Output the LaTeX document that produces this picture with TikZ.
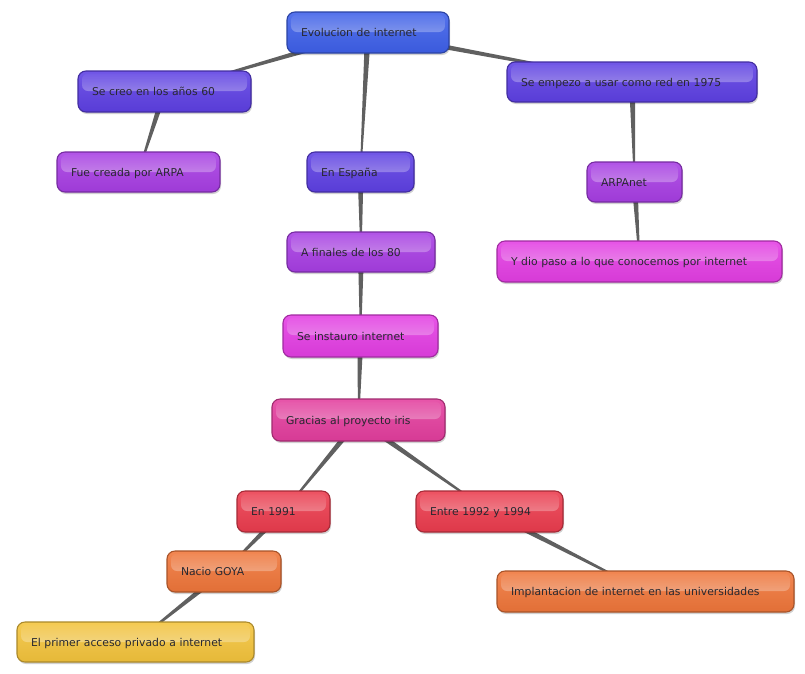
\documentclass[tikz,border=0pt]{standalone}
\usepackage{fontspec}
\setmainfont{DejaVu Sans}
\usetikzlibrary{calc,shadows,backgrounds,fadings}
\definecolor{cBlue}{RGB}{62,96,234}
\definecolor{cViolet}{RGB}{94,64,228}
\definecolor{cPurple}{RGB}{168,62,228}
\definecolor{cMagenta}{RGB}{228,62,228}
\definecolor{cPink}{RGB}{228,62,158}
\definecolor{cRed}{RGB}{236,60,78}
\definecolor{cOrange}{RGB}{240,118,58}
\definecolor{cYellow}{RGB}{244,196,60}
\definecolor{linec}{RGB}{96,96,96}
\definecolor{textc}{RGB}{40,40,48}
\tikzset{
  box/.style={rounded corners=8pt, draw=#1!70!black, line width=1.1pt,
    top color=#1!88!white, bottom color=#1!94!black, text=textc,
    font=\fontsize{10.8}{12}\selectfont, inner xsep=14pt, inner ysep=0pt,
    text height=10pt, text depth=2pt, align=left,
    drop shadow={shadow xshift=1pt, shadow yshift=-2pt, opacity=0.18, fill=black},
    path picture={\fill[white,opacity=0.6,path fading=north,rounded corners=6pt]
      ([xshift=4pt,yshift=-2.5pt]path picture bounding box.north west) rectangle
      ([xshift=-4pt,yshift=-20pt]path picture bounding box.north east);}},
}
\newcommand\myconn[2]{\fill[linec] ($(#1.center)!3pt!90:(#2.center)$) -- ($(#2.center)!0.6pt!-90:(#1.center)$) -- ($(#2.center)!0.6pt!90:(#1.center)$) -- ($(#1.center)!3pt!-90:(#2.center)$) -- cycle;}
\begin{document}
\begin{tikzpicture}[x=1pt,y=-1pt]
\useasboundingbox (0,0) rectangle (805,673);
\node[box=cBlue, text width=134pt, minimum height=41pt] (root) at (368,32.5) {Evolucion de internet};
\node[box=cViolet, text width=145pt, minimum height=41pt] (creo) at (164.5,91.5) {Se creo en los años 60};
\node[box=cViolet, text width=222pt, minimum height=40pt] (empezo) at (632,82) {Se empezo a usar como red en 1975};
\node[box=cPurple, text width=135pt, minimum height=40pt] (fue) at (138.5,172) {Fue creada por ARPA};
\node[box=cViolet, text width=79pt, minimum height=40pt] (espana) at (360.5,172) {En España};
\node[box=cPurple, text width=67pt, minimum height=40pt] (arpanet) at (634.5,182) {ARPAnet};
\node[box=cPurple, text width=120pt, minimum height=40pt] (finales) at (361,252) {A finales de los 80};
\node[box=cMagenta, text width=257pt, minimum height=41pt] (ydio) at (639.5,261.5) {Y dio paso a lo que conocemos por internet};
\node[box=cMagenta, text width=127pt, minimum height=42pt] (instauro) at (360.5,336) {Se instauro internet};
\node[box=cPink, text width=145pt, minimum height=42pt] (gracias) at (358.5,420) {Gracias al proyecto iris};
\node[box=cRed, text width=65pt, minimum height=41pt] (e1991) at (283.5,511.5) {En 1991};
\node[box=cRed, text width=119pt, minimum height=41pt] (entre) at (489.5,511.5) {Entre 1992 y 1994};
\node[box=cOrange, text width=86pt, minimum height=41pt] (nacio) at (224,571.5) {Nacio GOYA};
\node[box=cOrange, text width=269pt, minimum height=41pt] (implant) at (645.5,591.5) {Implantacion de internet en las universidades};
\node[box=cYellow, text width=209pt, minimum height=40pt] (primer) at (135.5,642) {El primer acceso privado a internet};
\begin{scope}[on background layer]
\fill[white] (0,0) rectangle (805,673);
\myconn{root}{creo}
\myconn{root}{espana}
\myconn{root}{empezo}
\myconn{creo}{fue}
\myconn{empezo}{arpanet}
\myconn{arpanet}{ydio}
\myconn{espana}{finales}
\myconn{finales}{instauro}
\myconn{instauro}{gracias}
\myconn{gracias}{e1991}
\myconn{gracias}{entre}
\myconn{entre}{implant}
\myconn{e1991}{nacio}
\myconn{nacio}{primer}
\end{scope}
\end{tikzpicture}
\end{document}
